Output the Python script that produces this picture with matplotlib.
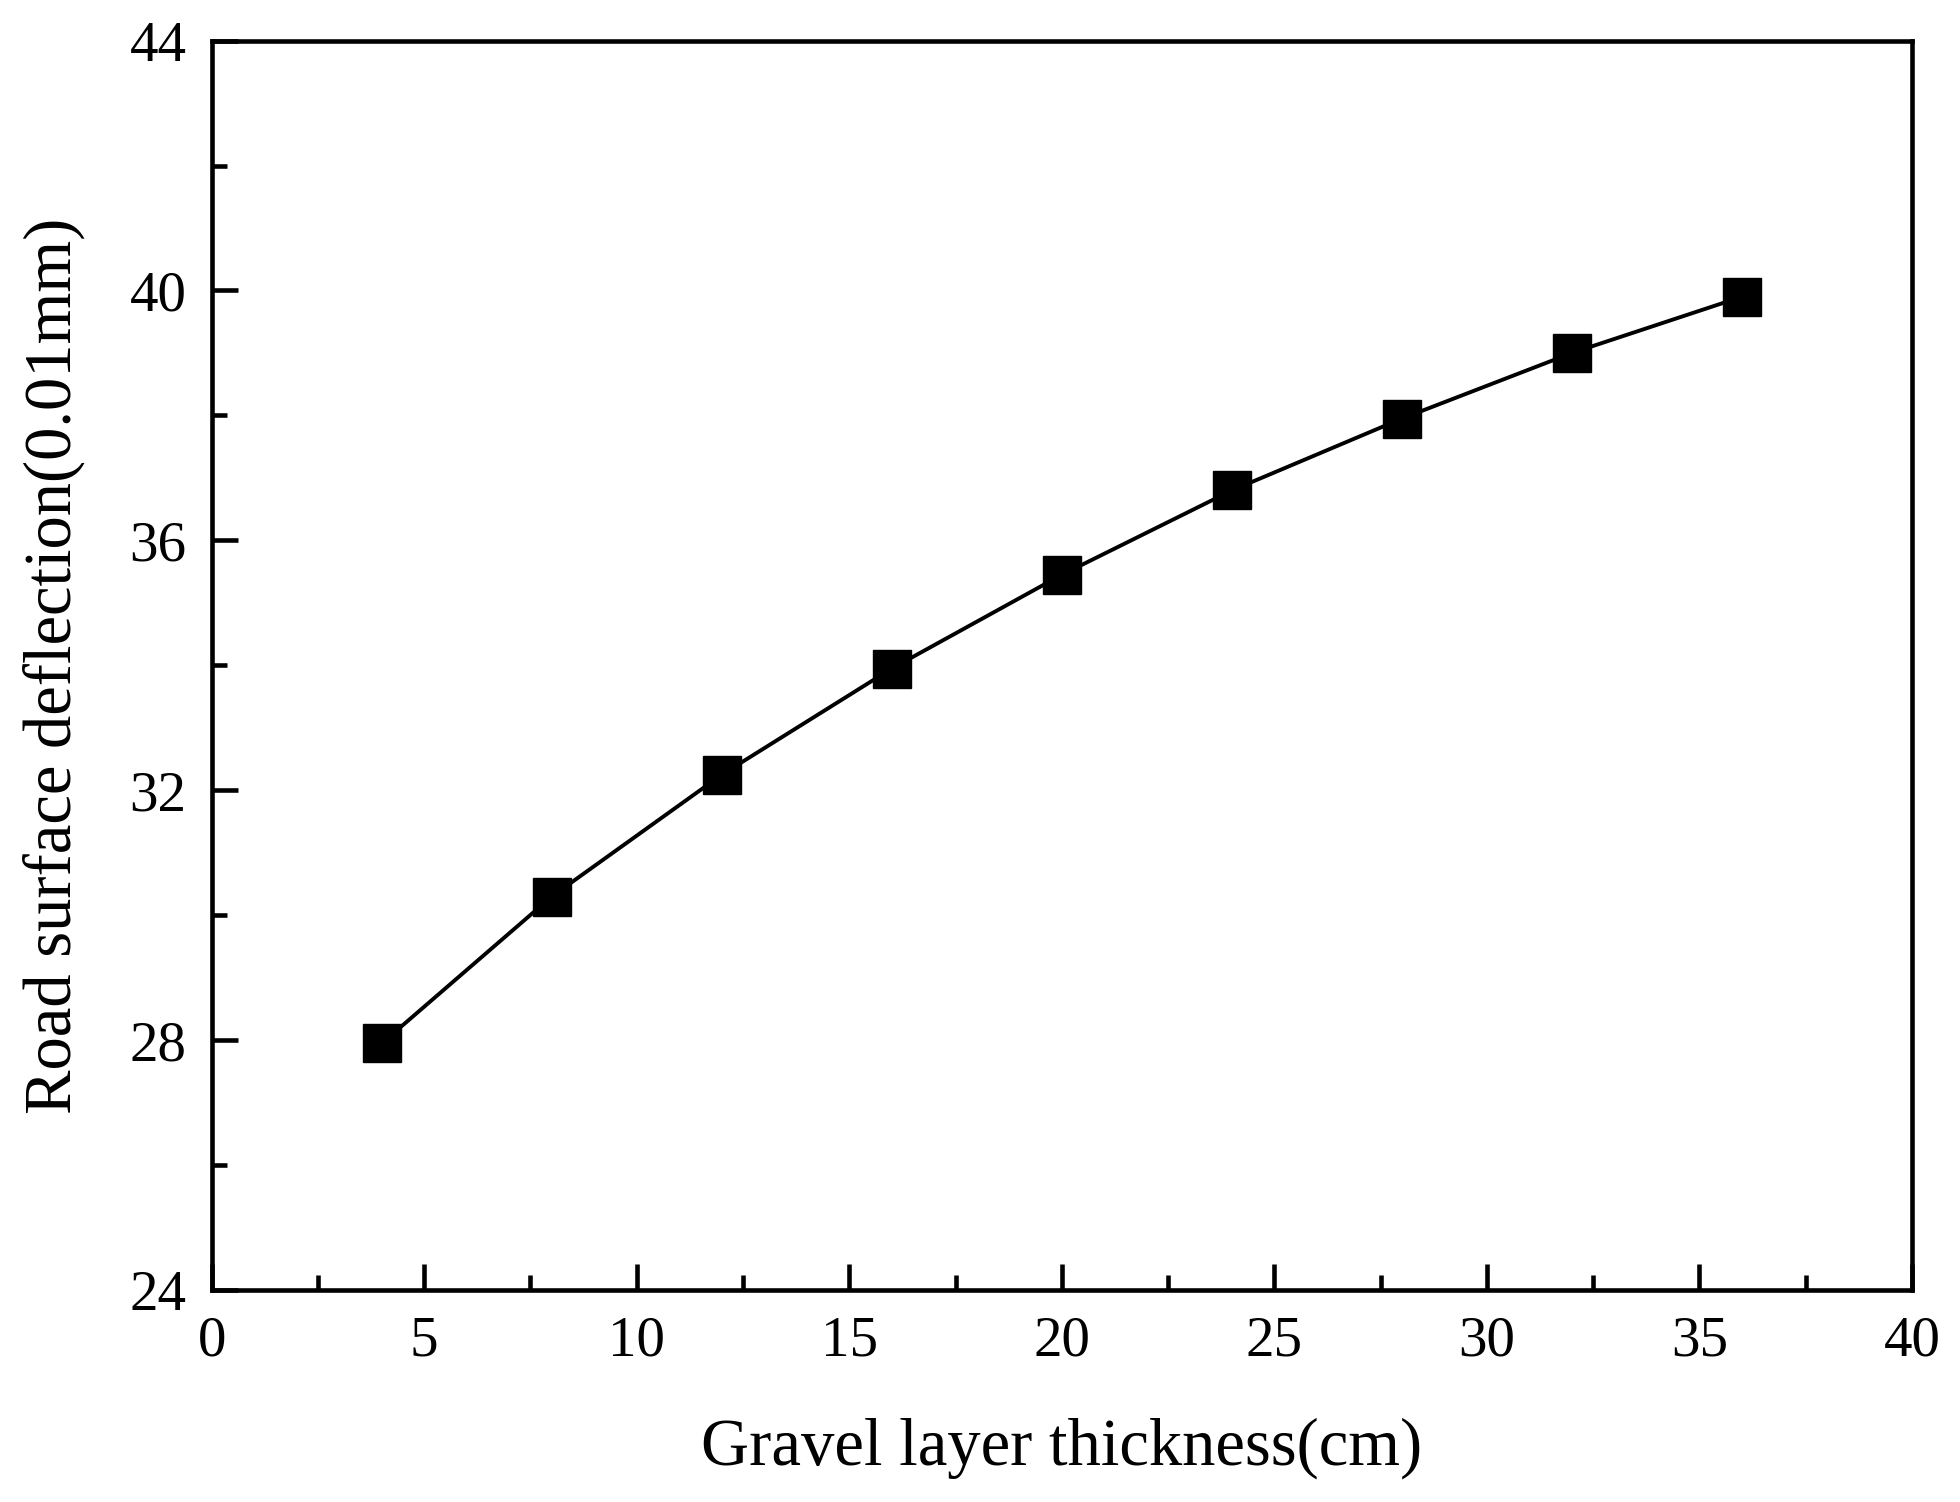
import numpy as np
import matplotlib
matplotlib.use('Agg')
from matplotlib import pyplot as plt
from matplotlib.ticker import MultipleLocator

# values
thickness = [4, 8, 12, 16, 20, 24, 28, 32, 36]
deflection = [27.95, 30.3, 32.25, 33.95, 35.45, 36.8, 37.95, 39.0, 39.9]

x_label = 'Gravel layer thickness(cm)'
y_label = 'Road surface deflection(0.01mm)'

plt.rcParams['font.family'] = ['Liberation Serif', 'DejaVu Serif']

fig = plt.figure(figsize=(19.6, 15.02), dpi=100)
ax = fig.add_axes([0.108, 0.141, 0.8675, 0.832])

ax.plot(thickness, deflection, color='black', linewidth=2.8,
        marker='s', markersize=27, markerfacecolor='black',
        markeredgecolor='black')

ax.set_xlim(0, 40)
ax.set_ylim(24, 44)
ax.xaxis.set_major_locator(MultipleLocator(5))
ax.xaxis.set_minor_locator(MultipleLocator(2.5))
ax.yaxis.set_major_locator(MultipleLocator(4))
ax.yaxis.set_minor_locator(MultipleLocator(2))

ax.tick_params(which='both', direction='in', width=3.3, labelsize=41,
               top=False, right=False)
ax.tick_params(which='major', length=19, pad=18)
ax.tick_params(which='minor', length=11)
for s in ax.spines.values():
    s.set_linewidth(3.3)

ax.set_xlabel(x_label, fontsize=48, labelpad=36)
ax.set_ylabel(y_label, fontsize=48, labelpad=32)

fig.savefig('out.png', dpi=100)
